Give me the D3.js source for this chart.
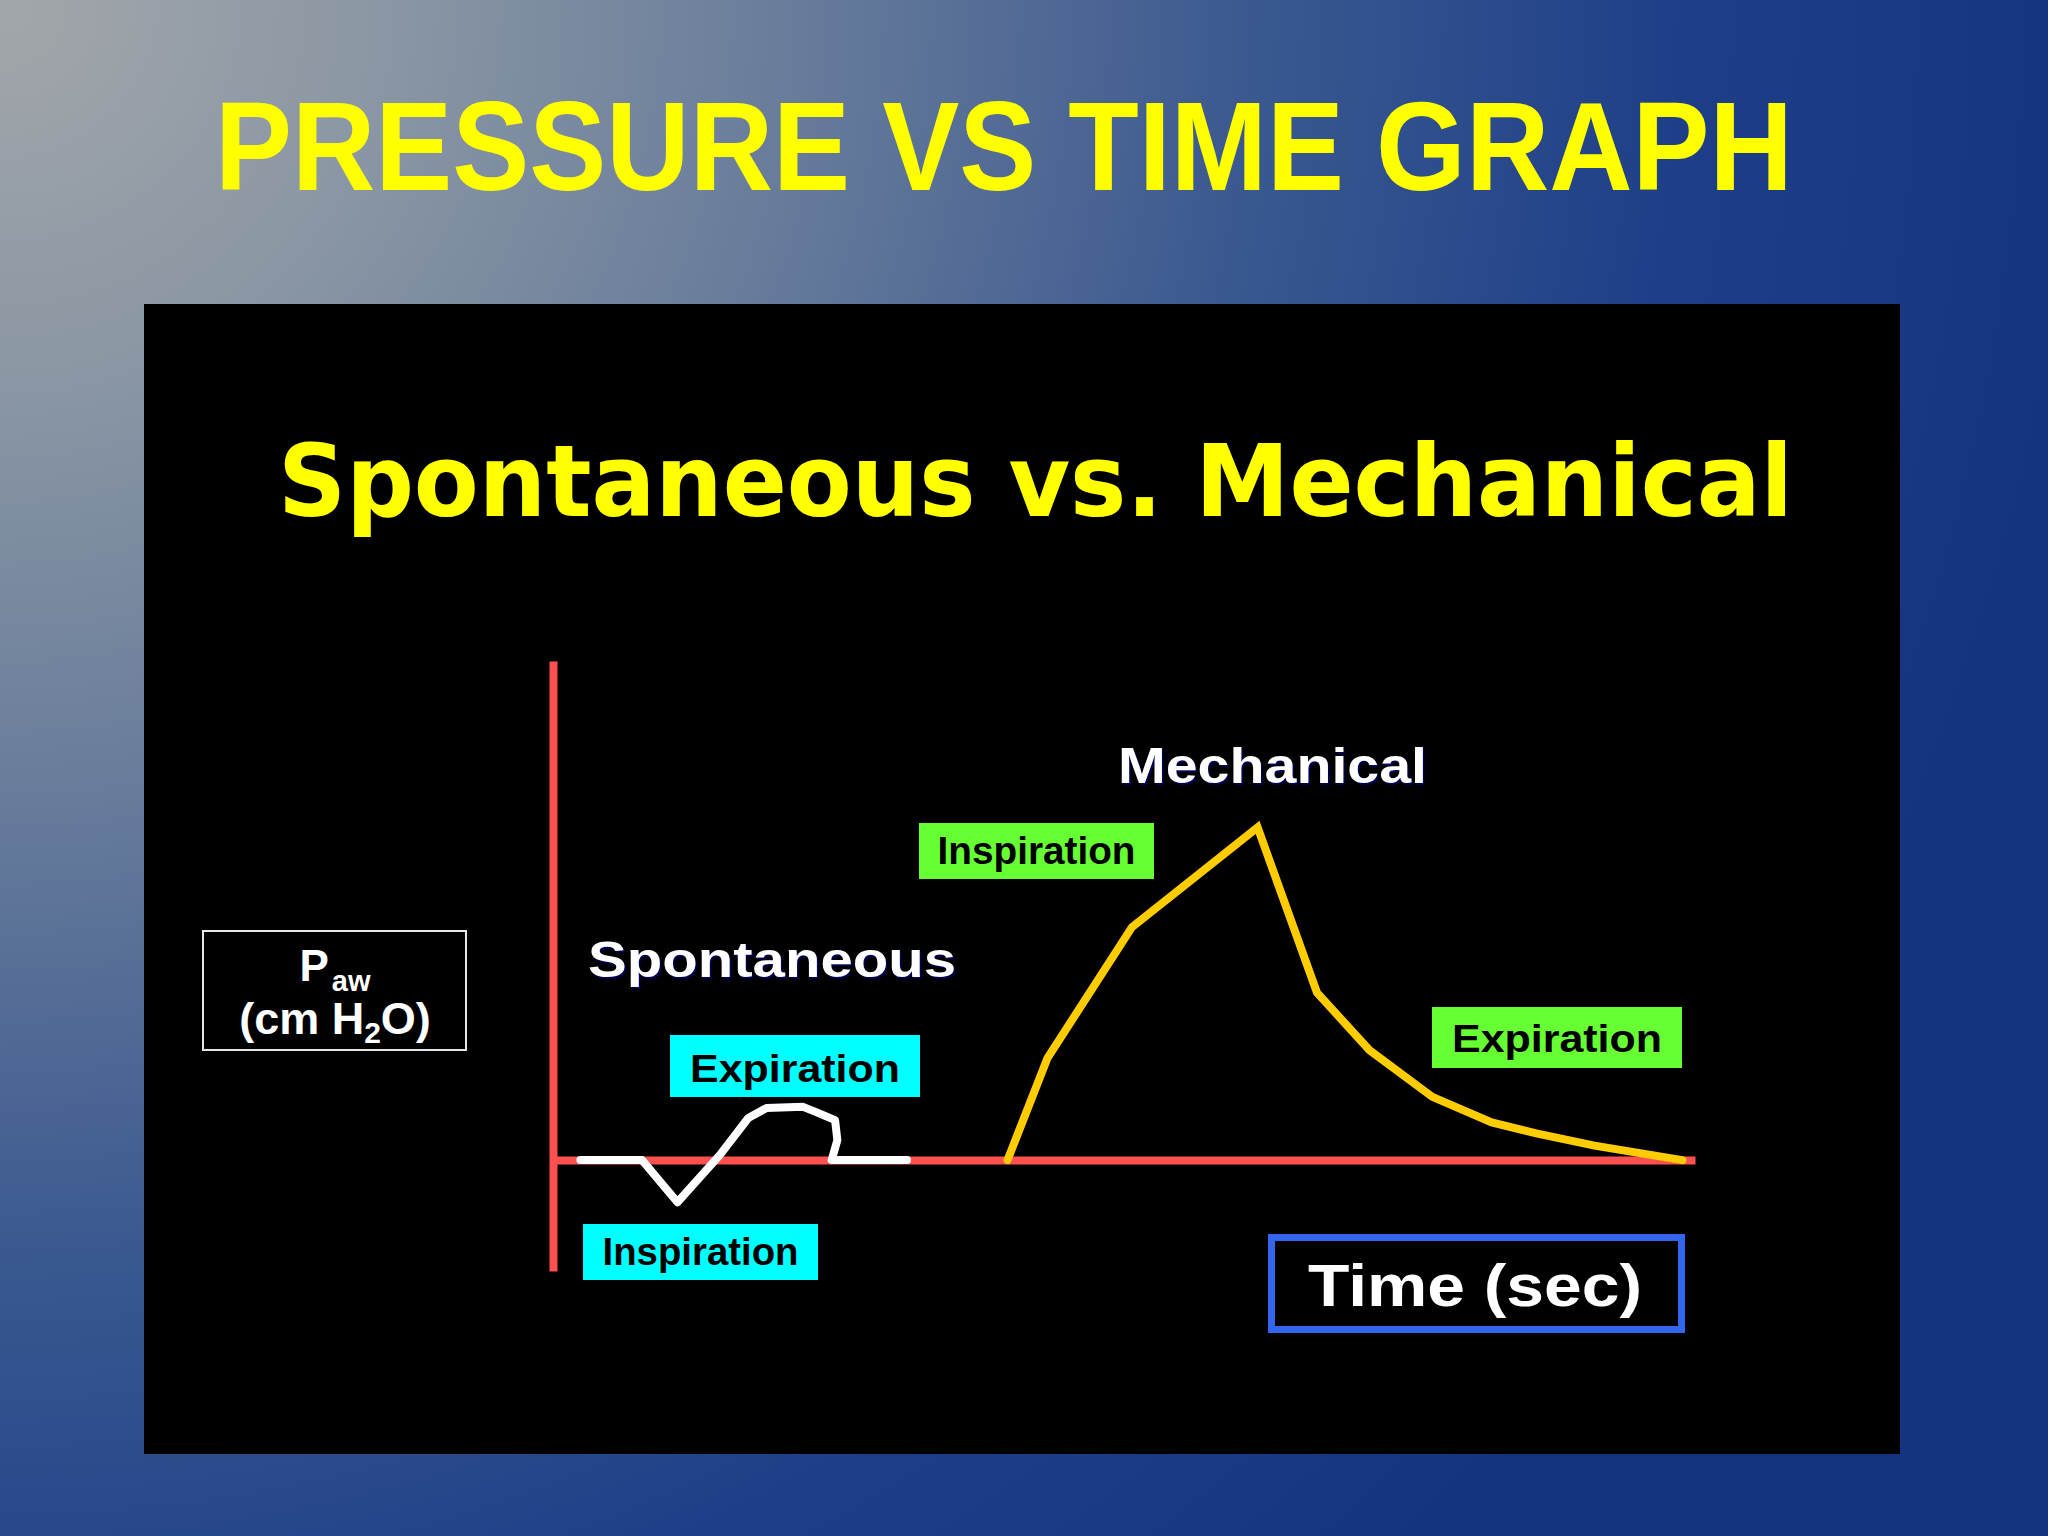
<!DOCTYPE html>
<html>
<head>
<meta charset="utf-8">
<script src="https://cdn.jsdelivr.net/npm/d3@7"></script>
<style>
  body { margin: 0; background: #1a3a88; }
  svg { display: block; }
</style>
</head>
<body>
<svg id="slide"></svg>
<script>
// waveform samples: time (sec, arbitrary) and airway pressure
var spontTime = [0.24, 0.78, 1.09, 1.46, 1.71, 1.87, 2.19, 2.31, 2.47, 2.49, 2.44, 3.10]
var spontPaw  = [0,    0,   -3.8,  0.45, 3.8,  4.7,  4.8,  4.3,  3.6,  1.8,  0,    0]

var mechTime = [3.98, 4.33, 5.07, 6.17, 6.69, 7.15, 7.70, 8.22, 8.61, 9.12, 9.89]
var mechPaw  = [0,    9.2,  21.0, 30.0, 15.1, 9.9,  5.7,  3.4,  2.4,  1.3,  0]

var timeDomain = [0, 10]
var pawDomain = [-10, 45]

var titleText = 'PRESSURE VS TIME GRAPH'
var subtitleText = 'Spontaneous vs. Mechanical'
var seriesNames = ['Spontaneous', 'Mechanical']
var phaseNames = ['Inspiration', 'Expiration']
var xLabel = 'Time (sec)'

var W = 2048, H = 1536
var svg = d3.select('#slide').attr('width', W).attr('height', H)
var defs = svg.append('defs')

var bg = defs.append('radialGradient').attr('id', 'bg')
    .attr('gradientUnits', 'userSpaceOnUse')
    .attr('cx', 0).attr('cy', 0).attr('r', 2100)
bg.selectAll('stop')
    .data([[0, '#a3a7aa'], [0.18, '#8b97a4'], [0.4, '#64799a'], [0.6, '#3a5890'], [0.8, '#1e3f88'], [1, '#14347f']])
    .join('stop')
    .attr('offset', d => d[0])
    .attr('stop-color', d => d[1])

svg.append('rect').attr('width', W).attr('height', H).attr('fill', 'url(#bg)')

// title
svg.append('text')
    .attr('x', 215).attr('y', 190)
    .attr('textLength', 1578).attr('lengthAdjust', 'spacingAndGlyphs')
    .style('font', 'bold 126px "Liberation Sans", sans-serif')
    .attr('fill', '#ffff00')
    .text(titleText)

// black panel
svg.append('rect')
    .attr('x', 144).attr('y', 304).attr('width', 1756).attr('height', 1150)
    .attr('fill', '#000')

svg.append('text')
    .attr('x', 278).attr('y', 516)
    .attr('textLength', 1515).attr('lengthAdjust', 'spacingAndGlyphs')
    .style('font', 'bold 100px "DejaVu Sans", sans-serif')
    .attr('fill', '#ffff00')
    .text(subtitleText)

var x = d3.scaleLinear().domain(timeDomain).range([553, 1695])
var y = d3.scaleLinear().domain(pawDomain).range([1271, 661])

var red = '#ff5050'

// axes (no ticks, only the domain line)
svg.append('g')
    .attr('transform', 'translate(' + x(0) + ',0)')
    .call(d3.axisLeft(y).ticks(0).tickSizeOuter(0))
svg.append('g')
    .attr('transform', 'translate(0,' + y(0) + ')')
    .call(d3.axisBottom(x).ticks(0).tickSizeOuter(0))
svg.selectAll('.domain').attr('stroke', red).attr('stroke-width', 8)

var line = d3.line()
    .x(d => x(d[0]))
    .y(d => y(d[1]))

svg.append('path')
    .datum(d3.zip(spontTime, spontPaw))
    .attr('d', line)
    .attr('fill', 'none')
    .attr('stroke', '#fff')
    .attr('stroke-width', 8)
    .attr('stroke-linecap', 'round')
    .attr('stroke-linejoin', 'round')

svg.append('path')
    .datum(d3.zip(mechTime, mechPaw))
    .attr('d', line)
    .attr('fill', 'none')
    .attr('stroke', '#ffcc00')
    .attr('stroke-width', 8)
    .attr('stroke-linecap', 'round')
    .attr('stroke-linejoin', 'miter')

var labelFont = 'bold 39px "Liberation Sans", Arial, sans-serif'

function phaseBox(x0, y0, w, h, fill, label, base, len){
    svg.append('rect')
        .attr('x', x0).attr('y', y0).attr('width', w).attr('height', h)
        .attr('fill', fill)
    svg.append('text')
        .attr('x', x0 + w/2).attr('y', base)
        .attr('text-anchor', 'middle')
        .attr('textLength', len).attr('lengthAdjust', 'spacingAndGlyphs')
        .style('font', labelFont)
        .attr('fill', '#000')
        .text(label)
}

phaseBox(670, 1035, 250, 62, '#00ffff', phaseNames[1], 1082, 210)
phaseBox(583, 1224, 235, 56, '#00ffff', phaseNames[0], 1265, 196)
phaseBox(919, 823, 235, 56, '#66ff33', phaseNames[0], 864, 198)
phaseBox(1432, 1007, 250, 61, '#66ff33', phaseNames[1], 1052, 210)

// series names with a faint navy shadow
function whiteLabel(x0, base, len, label){
    [['#000055', 1.5], ['#fff', 0]].forEach(function(s){
        svg.append('text')
            .attr('x', x0 + s[1]).attr('y', base + s[1])
            .attr('textLength', len).attr('lengthAdjust', 'spacingAndGlyphs')
            .style('font', 'bold 50px "Liberation Sans", Arial, sans-serif')
            .attr('fill', s[0])
            .text(label)
    })
}
whiteLabel(588, 977, 368, seriesNames[0])
whiteLabel(1118, 783, 309, seriesNames[1])

// y label box
svg.append('rect')
    .attr('x', 203).attr('y', 931).attr('width', 263).attr('height', 119)
    .attr('fill', 'none').attr('stroke', '#e6e6e6').attr('stroke-width', 2)

var p = svg.append('text')
    .attr('x', 335).attr('y', 981)
    .attr('text-anchor', 'middle')
    .style('font', 'bold 44px "Liberation Sans", Arial, sans-serif')
    .attr('fill', '#fff')
p.append('tspan').text('P')
p.append('tspan').attr('dx', 3).attr('dy', 10).style('font-size', '29px').text('aw')

var u = svg.append('text')
    .attr('x', 335).attr('y', 1034)
    .attr('text-anchor', 'middle')
    .style('font', 'bold 45px "Liberation Sans", Arial, sans-serif')
    .attr('fill', '#fff')
u.append('tspan').text('(cm H')
u.append('tspan').attr('dy', 9).style('font-size', '30px').text('2')
u.append('tspan').attr('dy', -9).text('O)')

// x label box
svg.append('rect')
    .attr('x', 1271.5).attr('y', 1237.5).attr('width', 410).attr('height', 92)
    .attr('fill', 'none').attr('stroke', '#3366ee').attr('stroke-width', 7)

svg.append('text')
    .attr('x', 1475).attr('y', 1306)
    .attr('text-anchor', 'middle')
    .attr('textLength', 334).attr('lengthAdjust', 'spacingAndGlyphs')
    .style('font', 'bold 60px "Liberation Sans", Arial, sans-serif')
    .attr('fill', '#fff')
    .text(xLabel)
</script>
</body>
</html>
